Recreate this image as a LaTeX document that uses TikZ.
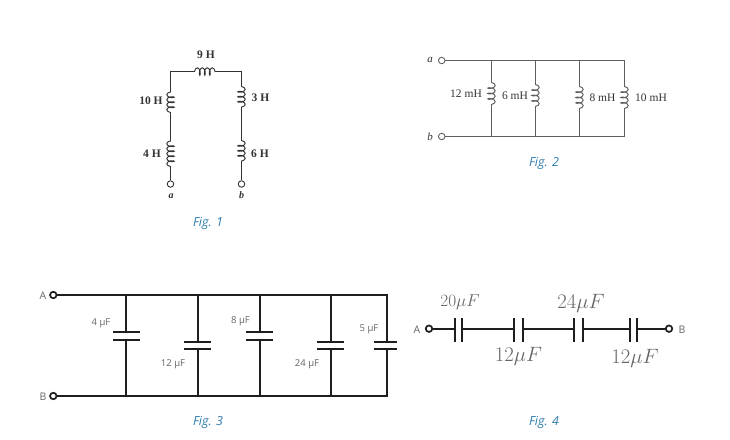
\documentclass[tikz,border=0pt]{standalone}
\usepackage{fontspec}
\setmainfont{Liberation Serif}
\newfontfamily\capfont{Open Sans}
\usetikzlibrary{decorations.pathmorphing}
\definecolor{capblue}{HTML}{2F7DB0}
\definecolor{wirea}{HTML}{333333}
\definecolor{wireb}{HTML}{5E5E5E}
\definecolor{wirec}{HTML}{1E1E1E}
\definecolor{labgray}{HTML}{666666}
\tikzset{
  x=1pt,y=-1pt,
  figcap/.style={font=\capfont\itshape\fontsize{12.5}{14}\selectfont,text=capblue,inner sep=0},
  boldlab/.style={inner sep=0,text=wirea,font=\bfseries\fontsize{11.5}{13}\selectfont},
  thinlab/.style={inner sep=0,text=wirea,font=\fontsize{11.5}{13}\selectfont},
  sanslab/.style={inner sep=0,text=labgray,font=\capfont\fontsize{9.5}{11}\selectfont},
  pinlab/.style={inner sep=0,text=labgray,font=\capfont\fontsize{10.5}{12}\selectfont},
  mathlab/.style={inner sep=0,text=labgray,font=\fontsize{#1}{22}\selectfont},
  wone/.style={draw=wirea,line width=1.3pt},
  wtwo/.style={draw=wireb,line width=1.3pt},
  wthree/.style={draw=wirec,line width=1.9pt},
  coilone/.style={draw=wirea,line width=0.95pt,decorate,decoration={coil,aspect=0.42,amplitude=3.7pt,segment length=5pt,pre length=0.5pt,post length=0.5pt}},
  coiltwo/.style={draw=wireb,line width=0.95pt,decorate,decoration={coil,aspect=0.42,amplitude=3.7pt,segment length=5.4pt,pre length=0.5pt,post length=0.5pt}},
  termone/.style={circle,draw=wirea,line width=0.9pt,fill=white,minimum size=6.5pt,inner sep=0},
  termtwo/.style={circle,draw=wireb,line width=0.9pt,fill=white,minimum size=6.5pt,inner sep=0},
  termthree/.style={circle,draw=wirec,line width=1.7pt,fill=white,minimum size=6.5pt,inner sep=0},
  plate/.style={draw=wirec,line width=1.9pt},
}
\begin{document}
\begin{tikzpicture}
\useasboundingbox[fill=white] (0,0) rectangle (730,439);

% ---------- Fig. 1 ----------
\coordinate (tl) at (170.5,71.5);
\coordinate (tr) at (241.5,71.5);
\coordinate (h1) at (194,71.5);
\coordinate (h2) at (219,71.5);
\coordinate (l1) at (170.5,89);
\coordinate (l2) at (170.5,113);
\coordinate (l3) at (170.5,140);
\coordinate (l4) at (170.5,167);
\coordinate (r1) at (241.5,86);
\coordinate (r2) at (241.5,111);
\coordinate (r3) at (241.5,140);
\coordinate (r4) at (241.5,166);
\node[termone] (ta) at (170.5,184) {};
\node[termone] (tb) at (241.5,184) {};
\draw[wone] (ta) -- (l4);
\draw[coilone] (l4) -- (l3);
\draw[wone] (l3) -- (l2);
\draw[coilone] (l2) -- (l1);
\draw[wone] (l1) -- (tl) -- (h1);
\draw[coilone] (h1) -- (h2);
\draw[wone] (h2) -- (tr) -- (r1);
\draw[coilone] (r1) -- (r2);
\draw[wone] (r2) -- (r3);
\draw[coilone] (r3) -- (r4);
\draw[wone] (r4) -- (tb);
\node[boldlab] (n9) at (206,54.5) {9 H};
\node[boldlab] (n10) at (151,101) {10 H};
\node[boldlab] (n4) at (152,153.5) {4 H};
\node[boldlab] (n3) at (260.5,98) {3 H};
\node[boldlab] (n6) at (260,153.5) {6 H};
\node[boldlab,font=\bfseries\itshape\fontsize{10}{12}\selectfont] (na) at (171,196) {a};
\node[boldlab,font=\bfseries\itshape\fontsize{10}{12}\selectfont] (nb) at (241.5,195) {b};
\node[figcap] (cap1) at (208,223.5) {Fig. 1};

% ---------- Fig. 2 ----------
\node[termtwo] (a2) at (441.7,60.5) {};
\node[termtwo] (b2) at (441.7,136.5) {};
\coordinate (t1) at (491.5,60.5);
\coordinate (t2) at (535.5,60.5);
\coordinate (t3) at (579.5,60.5);
\coordinate (t4) at (624.5,60.5);
\coordinate (d1) at (491.5,136.5);
\coordinate (d2) at (535.5,136.5);
\coordinate (d3) at (579.5,136.5);
\coordinate (d4) at (624.5,136.5);
\coordinate (c1a) at (491.5,82);
\coordinate (c1b) at (491.5,108);
\coordinate (c2a) at (535.5,84);
\coordinate (c2b) at (535.5,110);
\coordinate (c3a) at (579.5,86);
\coordinate (c3b) at (579.5,113);
\coordinate (c4a) at (624.5,86);
\coordinate (c4b) at (624.5,112);
\draw[wtwo] (a2) -- (t4) -- (c4a);
\draw[wtwo] (b2) -- (d4) -- (c4b);
\draw[coiltwo] (c4a) -- (c4b);
\draw[wtwo] (t1) -- (c1a) (c1b) -- (d1);
\draw[coiltwo] (c1a) -- (c1b);
\draw[wtwo] (t2) -- (c2a) (c2b) -- (d2);
\draw[coiltwo] (c2a) -- (c2b);
\draw[wtwo] (t3) -- (c3a) (c3b) -- (d3);
\draw[coiltwo] (c3a) -- (c3b);
\node[thinlab,font=\itshape\fontsize{11}{13}\selectfont] (na2) at (430,60) {a};
\node[thinlab,font=\itshape\fontsize{11}{13}\selectfont] (nb2) at (430,137) {b};
\node[thinlab] (m12) at (466,94) {12 mH};
\node[thinlab] (m6) at (515,95.5) {6 mH};
\node[thinlab] (m8) at (602.5,97.5) {8 mH};
\node[thinlab] (m10) at (651,97.5) {10 mH};
\node[figcap] (cap2) at (544,163.5) {Fig. 2};

% ---------- Fig. 3 ----------
\node[termthree] (a3) at (53.3,295) {};
\node[termthree] (b3) at (53.3,396) {};
\coordinate (u1) at (126.3,295);
\coordinate (u2) at (197.7,295);
\coordinate (u3) at (259.7,295);
\coordinate (u4) at (330.7,295);
\coordinate (u5) at (387.3,295);
\coordinate (v1) at (126.3,396);
\coordinate (v2) at (197.7,396);
\coordinate (v3) at (259.7,396);
\coordinate (v4) at (330.7,396);
\coordinate (v5) at (387.3,396);
\draw[wthree,line join=miter] (a3) -- (u5) -- (387.3,342);
\draw[wthree,line join=miter] (b3) -- (v5) -- (387.3,349.5);
\draw[wthree] (u1) -- (126.3,332.5) (126.3,340) -- (v1);
\draw[wthree] (u2) -- (197.7,342) (197.7,349.5) -- (v2);
\draw[wthree] (u3) -- (259.7,332.5) (259.7,340) -- (v3);
\draw[wthree] (u4) -- (330.7,342) (330.7,349.5) -- (v4);
\draw[plate] (112.8,332.3) -- (139.8,332.3) (112.8,340) -- (139.8,340);
\draw[plate] (184.2,341.7) -- (211.2,341.7) (184.2,349.3) -- (211.2,349.3);
\draw[plate] (246.2,332.3) -- (273.2,332.3) (246.2,340) -- (273.2,340);
\draw[plate] (317.2,341.7) -- (344.2,341.7) (317.2,349.3) -- (344.2,349.3);
\draw[plate] (373.7,341.7) -- (397,341.7) (373.7,349.3) -- (397,349.3);
\node[pinlab] (lA3) at (43,296) {A};
\node[pinlab] (lB3) at (43,397) {B};
\node[sanslab] (f4) at (101,323.5) {4 µF};
\node[sanslab] (f12) at (173,364) {12 µF};
\node[sanslab] (f8) at (240.5,321.5) {8 µF};
\node[sanslab] (f24) at (307,364) {24 µF};
\node[sanslab] (f5) at (369,329) {5 µF};
\node[figcap] (cap3) at (208,422) {Fig. 3};

% ---------- Fig. 4 ----------
\node[termthree] (a4) at (429,328.7) {};
\node[termthree] (b4) at (669,328.7) {};
\coordinate (p1) at (454.7,328.7);
\coordinate (q1) at (462.3,328.7);
\coordinate (p2) at (514.3,328.7);
\coordinate (q2) at (523.3,328.7);
\coordinate (p3) at (574.3,328.7);
\coordinate (q3) at (582.7,328.7);
\coordinate (p4) at (630,328.7);
\coordinate (q4) at (637,328.7);
\draw[wthree] (a4) -- (p1);
\draw[wthree] (q1) -- (p2);
\draw[wthree] (q2) -- (p3);
\draw[wthree] (q3) -- (p4);
\draw[wthree] (q4) -- (b4);
\foreach \px in {454.7,462.3,514.3,523.3,574.3,582.7,630,637}
  \draw[plate] (\px,318.3) -- (\px,342.3);
\node[pinlab] (lA4) at (417,329.5) {A};
\node[pinlab] (lB4) at (682,329.5) {B};
\node[mathlab=16.5] (e20) at (460,302.5) {$20\mu F$};
\node[mathlab=20] (e24) at (581,303) {$24\mu F$};
\node[mathlab=19.3] (e12a) at (518.5,356) {$12\mu F$};
\node[mathlab=19.3] (e12b) at (635,358) {$12\mu F$};
\node[figcap] (cap4) at (544,422) {Fig. 4};
\end{tikzpicture}
\end{document}
